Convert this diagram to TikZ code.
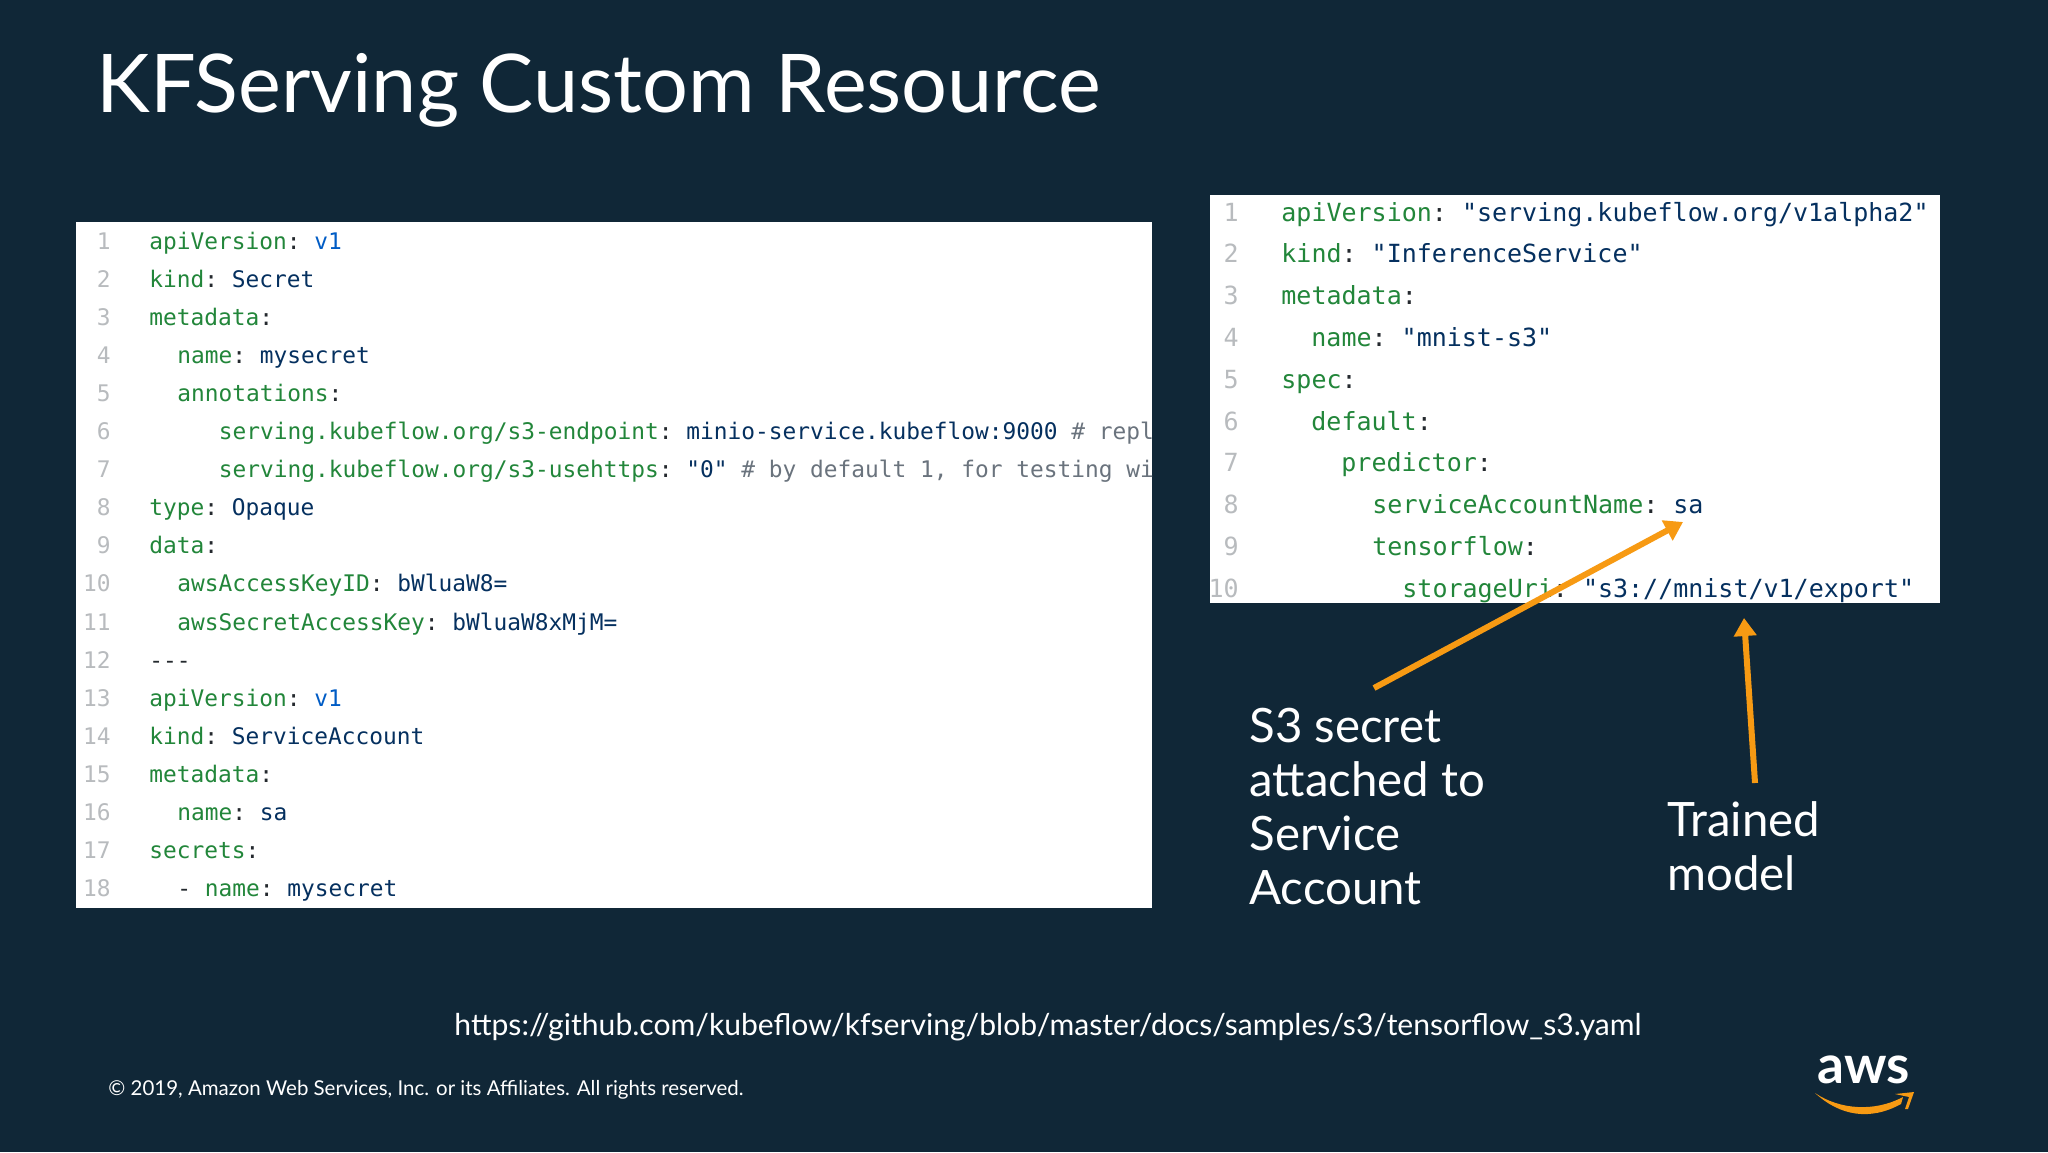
\documentclass[tikz,border=0pt]{standalone}
\usepackage{fontspec}
\setmainfont{Lato}
\setmonofont{DejaVu Sans Mono}
\usepackage{xcolor}
\usetikzlibrary{arrows.meta}
\definecolor{slidebg}{HTML}{102737}
\definecolor{keygreen}{HTML}{22863A}
\definecolor{valnavy}{HTML}{05305F}
\definecolor{valblue}{HTML}{005CC5}
\definecolor{colondark}{HTML}{24292E}
\definecolor{commentgray}{HTML}{6A737D}
\definecolor{numgray}{HTML}{B8BBBE}
\definecolor{awsorange}{HTML}{F79A13}
\newcommand{\yk}[1]{\textcolor{keygreen}{#1}\textcolor{colondark}{:}}
\newcommand{\yv}[1]{\textcolor{valnavy}{#1}}
\newcommand{\yc}[1]{\textcolor{commentgray}{#1}}
\tikzstyle{panel}=[fill=white, inner sep=0pt, anchor=north west]
\tikzstyle{numl}=[inner sep=0pt, anchor=base east, text=numgray, font=\ttfamily\fontsize{11.42}{13}\selectfont]
\tikzstyle{codel}=[inner sep=0pt, anchor=base west, font=\ttfamily\fontsize{11.42}{13}\selectfont]
\tikzstyle{numr}=[inner sep=0pt, anchor=base east, text=numgray, font=\ttfamily\fontsize{12.5}{15}\selectfont]
\tikzstyle{coder}=[inner sep=0pt, anchor=base west, font=\ttfamily\fontsize{12.5}{15}\selectfont]
\tikzstyle{callout}=[inner sep=0pt, anchor=north west, align=left, text=white, font=\fontsize{23.7}{27}\selectfont]
\tikzstyle{pointer}=[draw=awsorange, line width=3pt, -{Triangle[length=9pt,width=11pt]}]

\begin{document}
\begin{tikzpicture}[x=0.5pt,y=-0.5pt]
            \useasboundingbox (0,0) rectangle (2048,1152);
            \fill[slidebg] (0,0) rectangle (2048,1152);
            % Title
            \node[inner sep=0pt, anchor=base west, text=white, font=\fontsize{40.5}{46}\selectfont] (title) at (96,112) {KFServing Custom Resource};
            % Left panel
            \node[panel, minimum width=538pt, minimum height=343pt] (leftpanel) at (76,222) {};
            \begin{scope}
            \clip (leftpanel.north west) rectangle (leftpanel.south east);
            \node[numl] (ln1) at (111,249) {1};
            \node[numl] (ln2) at (111,287.1) {2};
            \node[numl] (ln3) at (111,325.2) {3};
            \node[numl] (ln4) at (111,363.3) {4};
            \node[numl] (ln5) at (111,401.4) {5};
            \node[numl] (ln6) at (111,439.5) {6};
            \node[numl] (ln7) at (111,477.6) {7};
            \node[numl] (ln8) at (111,515.7) {8};
            \node[numl] (ln9) at (111,553.8) {9};
            \node[numl] (ln10) at (111,591.9) {10};
            \node[numl] (ln11) at (111,630) {11};
            \node[numl] (ln12) at (111,668.1) {12};
            \node[numl] (ln13) at (111,706.2) {13};
            \node[numl] (ln14) at (111,744.3) {14};
            \node[numl] (ln15) at (111,782.4) {15};
            \node[numl] (ln16) at (111,820.5) {16};
            \node[numl] (ln17) at (111,858.6) {17};
            \node[numl] (ln18) at (111,896.7) {18};
            \node[codel] (lc1) at (149,249) {\yk{apiVersion} \textcolor{valblue}{v1}};
            \node[codel] (lc2) at (149,287.1) {\yk{kind} \yv{Secret}};
            \node[codel] (lc3) at (149,325.2) {\yk{metadata}};
            \node[codel] (lc4) at (177,363.3) {\yk{name} \yv{mysecret}};
            \node[codel] (lc5) at (177,401.4) {\yk{annotations}};
            \node[codel] (lc6) at (218.5,439.5) {\yk{serving.kubeflow.org/s3-endpoint} \yv{minio-service.kubeflow:9000} \yc{\# repl}};
            \node[codel] (lc7) at (218.5,477.6) {\yk{serving.kubeflow.org/s3-usehttps} \yv{"0"} \yc{\# by default 1, for testing wi}};
            \node[codel] (lc8) at (149,515.7) {\yk{type} \yv{Opaque}};
            \node[codel] (lc9) at (149,553.8) {\yk{data}};
            \node[codel] (lc10) at (177,591.9) {\yk{awsAccessKeyID} \yv{bWluaW8=}};
            \node[codel] (lc11) at (177,630) {\yk{awsSecretAccessKey} \yv{bWluaW8xMjM=}};
            \node[codel] (lc12) at (149,668.1) {\textcolor{colondark}{---}};
            \node[codel] (lc13) at (149,706.2) {\yk{apiVersion} \textcolor{valblue}{v1}};
            \node[codel] (lc14) at (149,744.3) {\yk{kind} \yv{ServiceAccount}};
            \node[codel] (lc15) at (149,782.4) {\yk{metadata}};
            \node[codel] (lc16) at (177,820.5) {\yk{name} \yv{sa}};
            \node[codel] (lc17) at (149,858.6) {\yk{secrets}};
            \node[codel] (lc18) at (177,896.7) {\textcolor{colondark}{-} \yk{name} \yv{mysecret}};
            \end{scope}
            % Right panel
            \node[panel, minimum width=365pt, minimum height=204pt] (rightpanel) at (1209.5,195) {};
            \begin{scope}
            \clip (rightpanel.north west) rectangle (rightpanel.south east);
            \node[numr] (rn1) at (1239,221) {1};
            \node[numr] (rn2) at (1239,262.8) {2};
            \node[numr] (rn3) at (1239,304.6) {3};
            \node[numr] (rn4) at (1239,346.4) {4};
            \node[numr] (rn5) at (1239,388.2) {5};
            \node[numr] (rn6) at (1239,430) {6};
            \node[numr] (rn7) at (1239,471.8) {7};
            \node[numr] (rn8) at (1239,513.6) {8};
            \node[numr] (rn9) at (1239,555.4) {9};
            \node[numr] (rn10) at (1239,597.2) {10};
            \node[coder] (rc1) at (1281,221) {\yk{apiVersion} \yv{"serving.kubeflow.org/v1alpha2"}};
            \node[coder] (rc2) at (1281,262.8) {\yk{kind} \yv{"InferenceService"}};
            \node[coder] (rc3) at (1281,304.6) {\yk{metadata}};
            \node[coder] (rc4) at (1311,346.4) {\yk{name} \yv{"mnist-s3"}};
            \node[coder] (rc5) at (1281,388.2) {\yk{spec}};
            \node[coder] (rc6) at (1311,430) {\yk{default}};
            \node[coder] (rc7) at (1341,471.8) {\yk{predictor}};
            \node[coder] (rc8) at (1372,513.6) {\yk{serviceAccountName} \yv{sa}};
            \node[coder] (rc9) at (1372,555.4) {\yk{tensorflow}};
            \node[coder] (rc10) at (1402,597.2) {\yk{storageUri} \yv{"s3://mnist/v1/export"}};
            \end{scope}
            % Callouts
            \node[callout] (secretnote) at (1249,707.5) {S3 secret\\attached to\\Service\\Account};
            \node[callout] (modelnote) at (1667,801) {Trained\\model};
            \coordinate (secrettail) at (1374,688);
            \coordinate (secrethead) at (1683,522);
            \coordinate (modeltail) at (1755,783);
            \coordinate (modelhead) at (1744,618);
            \draw[pointer] (secrettail) -- (secrethead);
            \draw[pointer] (modeltail) -- (modelhead);
            % Footer
            \node[inner sep=0pt, anchor=base west, text=white, font=\fontsize{15.05}{18}\selectfont] (sourceurl) at (454,1035) {https://github.com/kubeflow/kfserving/blob/master/docs/samples/s3/tensorflow\_s3.yaml};
            \node[inner sep=0pt, anchor=base west, text=white, font=\fontsize{10.23}{13}\selectfont] (copyright) at (108,1095) {© 2019, Amazon Web Services, Inc. or its Affiliates. All rights reserved.};
            % Logo
            \node[inner sep=0pt, anchor=base, text=white, font=\bfseries\fontsize{26.5}{32}\selectfont] (awsword) at (1864,1083) {aws};
            \fill[awsorange] (1815,1093) .. controls (1840,1110) and (1875,1112) .. (1903,1097) -- (1901,1104) .. controls (1870,1121) and (1840,1116) .. cycle;
            \fill[awsorange] (1895,1094) -- (1914,1092) -- (1908,1109) -- (1905,1109) -- (1909,1097) -- cycle;
        \end{tikzpicture}
\end{document}
